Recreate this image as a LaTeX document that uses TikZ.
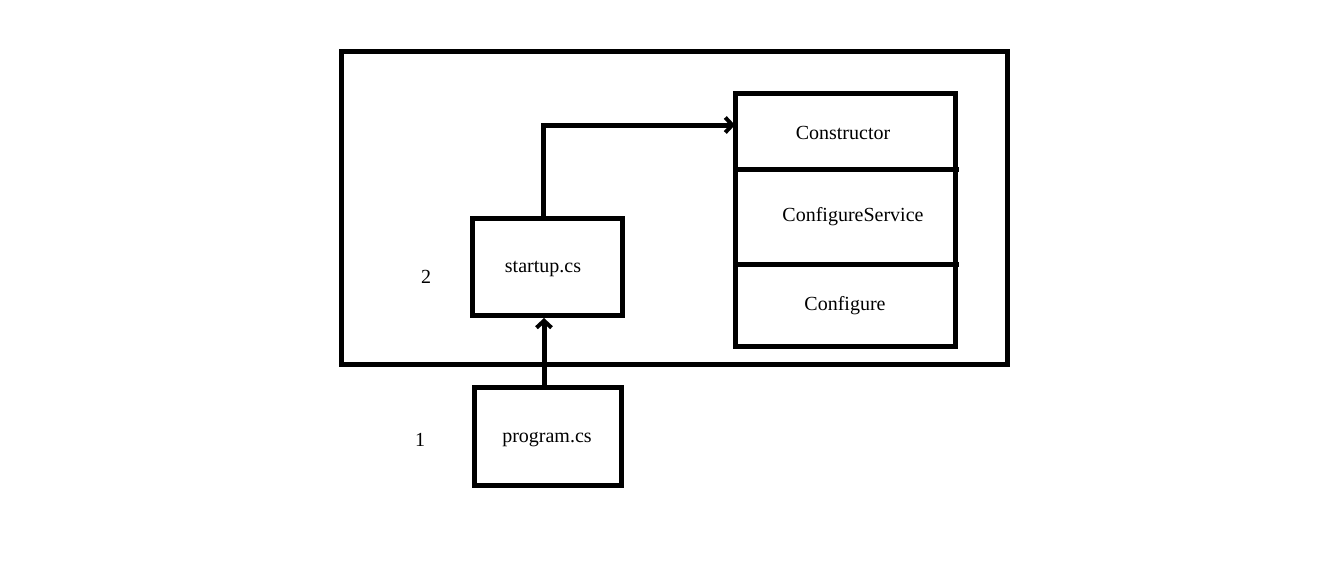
\documentclass[tikz,border=0pt]{standalone}
\usepackage{fontspec}
\setmainfont{Liberation Serif}
\usetikzlibrary{arrows.meta}
\begin{document}
\begin{tikzpicture}[x=1pt,y=-1pt,
  frame/.style={draw=black,line width=5pt,inner sep=0pt,outer sep=0pt},
  txt/.style={font=\fontsize{20}{24}\selectfont,inner sep=0pt,anchor=center},
  conn/.style={line width=5pt,-{Straight Barb[length=7pt,width=15pt,line width=4pt]}}]
\useasboundingbox (0,0) rectangle (1339,562);
% outer frame
\node[frame,minimum width=666.5pt,minimum height=312.5pt] (outer) at (674.25,207.75) {};
% method stack
\node[frame,minimum width=220pt,minimum height=76pt] (ctor) at (845,131) {};
\node[frame,minimum width=220pt,minimum height=95pt] (cfgs) at (845,216.5) {};
\node[frame,minimum width=220pt,minimum height=81.5pt] (cfg) at (845,305.25) {};
\draw[line width=5pt] (cfgs.north east) -- ++(4,0);
\draw[line width=5pt] (cfg.north east) -- ++(4,0);
\node[txt] (tctor) at (843,133) {Constructor};
\node[txt] (tcfgs) at (853,217) {ConfigureService};
\node[txt] (tcfg) at (845,306) {Configure};
% startup and program
\node[frame,minimum width=150pt,minimum height=97pt] (startup) at (547,266.5) {};
\node[txt] (tstartup) at (543,269) {startup.cs};
\node[frame,minimum width=147pt,minimum height=98pt] (program) at (547.5,436) {};
\node[txt] (tprogram) at (547,440) {program.cs};
\node[txt] (l2) at (426,277) {2};
\node[txt] (l1) at (420,440) {1};
% connectors
\coordinate (pstart) at (544,389);
\coordinate (ptip) at (544,318);
\draw[conn] (pstart) -- (ptip);
\coordinate (sstart) at (543,218);
\coordinate (bend) at (543,125);
\coordinate (stip) at (735,125);
\draw[conn] (sstart) -- (bend) -- (stip);
\end{tikzpicture}
\end{document}
